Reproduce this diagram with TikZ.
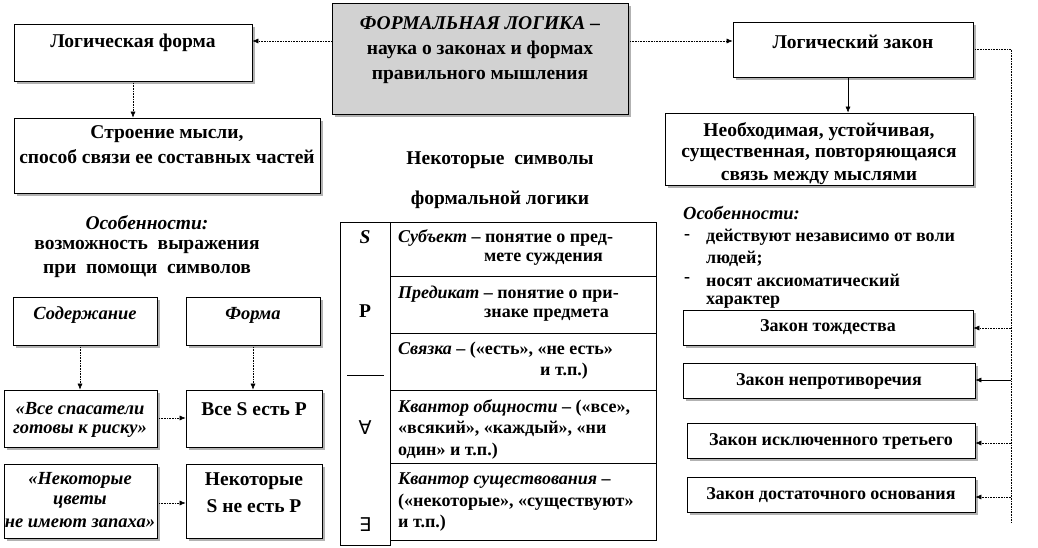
\documentclass[tikz,border=0pt]{standalone}
\usepackage{fontspec}
\setmainfont{Liberation Serif}
\newfontfamily\dejavu{DejaVu Sans}
\usetikzlibrary{fit,shadows,arrows.meta}
\begin{document}
\begin{tikzpicture}[x=1pt,y=-1pt,
  box/.style={draw=black,line width=0.7pt,fill=white,inner sep=0pt,drop shadow={shadow xshift=3pt,shadow yshift=-3pt,fill=gray!60,opacity=1}},
  tbox/.style={draw=black,line width=0.7pt,fill=white,inner sep=0pt},
  t/.style={font=\bfseries\fontsize{19.5}{22}\selectfont,inner sep=0pt},
  ti/.style={font=\bfseries\itshape\fontsize{19.5}{22}\selectfont,inner sep=0pt},
  si/.style={font=\bfseries\itshape\fontsize{18.5}{22}\selectfont,inner sep=0pt},
  ts/.style={font=\bfseries\fontsize{18}{21}\selectfont,inner sep=0pt,anchor=west},
  arr/.style={-{Latex[length=6pt,width=5pt]},line width=0.6pt},
  darr/.style={arr,densely dotted}]
\useasboundingbox (0,0) rectangle (1038,548);
% top row
\node[box,fill=gray!35,fit={(332,3)(628,114)}] (title) {};
\node[ti] at (480,23) {ФОРМАЛЬНАЯ ЛОГИКА –};
\node[t] at (480,50) {наука о законах и формах};
\node[t] at (480,77) {правильного мышления};
\node[box,fit={(14,24)(252,81)}] (lf) {};
\node[t] at (133,43) {Логическая форма};
\node[box,fit={(14,118)(320,193)}] (str) {};
\node[t] at (167,134) {Строение мысли,};
\node[t] at (167,157) {способ связи ее составных частей};
\node[box,fit={(733,22)(973,77)}] (lz) {};
\node[t] at (853,42) {Логический закон};
\node[box,fit={(665,113)(973,185)}] (neo) {};
\node[t] at (819,132) {Необходимая, устойчивая,};
\node[t] at (819,155) {существенная, повторяющаяся};
\node[t] at (819,178) {связь между мыслями};
\draw[darr] (title.west |- 0,41) -- (lf.east |- 0,41);
\draw[darr] (title.east |- 0,41) -- (lz.west |- 0,41);
\draw[darr] (lf.south -| 133,0) -- (str.north -| 133,0);
\draw[arr] (lz.south -| 848,0) -- (neo.north -| 848,0);
% middle heading
\node[t] at (500,160) {Некоторые\ \ символы};
\node[t] at (500,200) {формальной логики};
% table
\node[tbox,fit={(340,222)(390,545)}] (symcol) {};
\node[tbox,fit={(390,222)(656,276)}] (c1) {};
\node[tbox,fit={(390,276)(656,333)}] (c2) {};
\node[tbox,fit={(390,333)(656,390)}] (c3) {};
\node[tbox,fit={(390,390)(656,463)}] (c4) {};
\node[tbox,fit={(390,463)(656,540)}] (c5) {};
\node[ti] at (365,237) {S};
\node[t] at (365,311) {P};
\coordinate (l1) at (347,375); \coordinate (l2) at (384,375);
\draw[line width=0.6pt] (l1) -- (l2);
\node[inner sep=0pt,font=\dejavu\fontsize{19}{20}\selectfont] at (365,428) {∀};
\node[inner sep=0pt,font=\dejavu\fontsize{19}{20}\selectfont] at (365,525) {∃};
\node[ts] at (398,238) {\itshape Субъект\upshape\ – понятие о пред-};
\node[ts] at (484,259) {мете суждения};
\node[ts] at (398,294) {\itshape Предикат\upshape\ – понятие о при-};
\node[ts] at (484,315) {знаке предмета};
\node[ts] at (398,350) {\itshape Связка\upshape\ – («есть», «не есть»};
\node[ts] at (540,371) {и т.п.)};
\node[ts] at (398,408) {\itshape Квантор общности\upshape\ – («все»,};
\node[ts] at (398,429) {«всякий», «каждый», «ни};
\node[ts] at (398,451) {один» и т.п.)};
\node[ts] at (398,481) {\itshape Квантор существования\upshape\ –};
\node[ts] at (398,502) {(«некоторые», «существуют»};
\node[ts] at (398,523) {и т.п.)};
% left lower
\node[ti] at (147,223) {Особенности:};
\node[t] at (147,247) {возможность\ \ выражения};
\node[t] at (147,271) {при\ \ помощи\ \ символов};
\node[box,fit={(13,297)(157,345)}] (sod) {};
\node[si] at (85,315) {Содержание};
\node[box,fit={(186,297)(320,345)}] (forma) {};
\node[si] at (253,315) {Форма};
\node[box,fit={(4,390)(157,447)}] (ex1) {};
\node[si] at (80,409) {«Все спасатели};
\node[si] at (80,431) {готовы к риску»};
\node[box,fit={(186,390)(322,447)}] (f1) {};
\node[t] at (254,409) {Все S есть P};
\node[box,fit={(4,464)(157,538)}] (ex2) {};
\node[si] at (80,480) {«Некоторые};
\node[si] at (80,502) {цветы};
\node[si] at (80,523) {не имеют запаха»};
\node[box,fit={(186,464)(322,538)}] (f2) {};
\node[t] at (254,481) {Некоторые};
\node[t] at (254,506) {S не есть P};
\draw[darr] (sod.south -| 80,0) -- (ex1.north -| 80,0);
\draw[darr] (forma.south -| 253,0) -- (f1.north -| 253,0);
\draw[darr] (ex1.east |- 0,418) -- (f1.west |- 0,418);
\draw[darr] (ex2.east |- 0,503) -- (f2.west |- 0,503);
% right lower
\node[si,anchor=west] at (683,213) {Особенности:};
\node[ts] at (684,237) {-};
\node[ts] at (706,237) {действуют независимо от воли};
\node[ts] at (706,259) {людей;};
\node[ts] at (684,280) {-};
\node[ts] at (706,280) {носят аксиоматический};
\node[ts] at (706,302) {характер};
\node[box,fit={(683,310)(973,345)}] (z1) {};
\node[ts,anchor=center] at (828,327) {Закон тождества};
\node[box,fit={(683,363)(975,398)}] (z2) {};
\node[ts,anchor=center] at (829,381) {Закон непротиворечия};
\node[box,fit={(687,423)(975,458)}] (z3) {};
\node[ts,anchor=center] at (831,441) {Закон исключенного третьего};
\node[box,fit={(687,477)(975,512)}] (z4) {};
\node[ts,anchor=center] at (831,495) {Закон достаточного основания};
\coordinate (bt) at (1011,49);
\coordinate (bb) at (1011,522);
\draw[densely dotted,line width=0.6pt] (lz.east |- bt) -- (bt) -- (bb);
\draw[darr] (1011,328) -- (z1.east |- 0,328);
\draw[arr] (1011,380) -- (z2.east |- 0,380);
\draw[darr] (1011,443) -- (z3.east |- 0,443);
\draw[darr] (1011,497) -- (z4.east |- 0,497);
\end{tikzpicture}
\end{document}
